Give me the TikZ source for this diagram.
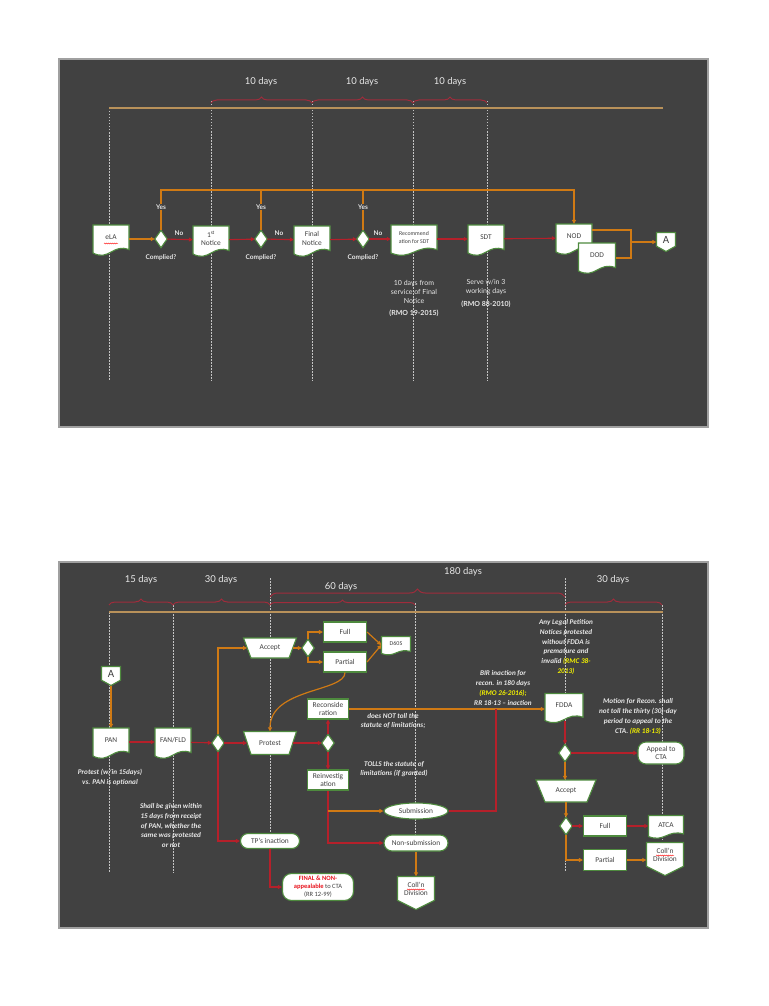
\documentclass[tikz,border=0pt]{standalone}
\usepackage{fontspec}
\setmainfont{Carlito}
\newfontfamily\daysfont{Lato}
\usetikzlibrary{arrows.meta,decorations.pathreplacing,decorations.pathmorphing,shapes.geometric,calc}
\definecolor{bgc}{HTML}{414141}
\definecolor{framec}{HTML}{A0A0A0}
\definecolor{tlc}{HTML}{B8915A}
\definecolor{brcc}{HTML}{A02C3C}
\definecolor{dshc}{HTML}{C4C4C4}
\definecolor{org}{HTML}{D07A14}
\definecolor{rdc}{HTML}{B5202A}
\definecolor{grn}{HTML}{4E8A3E}
\definecolor{ntxt}{HTML}{404040}
\definecolor{lbl}{HTML}{E8E8E8}
\definecolor{ylw}{HTML}{F2F000}
\definecolor{redt}{HTML}{E8141E}
\tikzset{
 nodeb/.style={draw=grn, fill=white, line width=1.1pt},
 ntx/.style={text=ntxt, font=\fontsize{7.4}{8.4}\selectfont, align=center, inner sep=0pt},
 boxn/.style={nodeb, ntx, inner sep=1pt},
 hid/.style={draw=none, inner sep=0pt},
 oarr/.style={draw=org, line width=1.2pt, -{Triangle[length=4pt,width=4pt]}},
 rarr/.style={draw=rdc, line width=1.1pt, -{Triangle[length=4pt,width=4pt]}},
 oline/.style={draw=org, line width=1.2pt},
 rline/.style={draw=rdc, line width=1.1pt},
 dsh/.style={draw=dshc, line width=0.7pt, dash pattern=on 1.5pt off 1.5pt},
 tline/.style={draw=tlc, line width=1.3pt},
 brc/.style={draw=brcc, line width=1pt, decorate, decoration={brace, amplitude=#1}},
 brc/.default=6pt,
 dayl/.style={text=lbl, font=\daysfont\fontsize{9.5}{10}\selectfont, inner sep=0pt},
 lab/.style={text=lbl, font=\daysfont\bfseries\fontsize{6.5}{7}\selectfont, inner sep=1pt},
 tnote/.style={text=lbl, font=\daysfont\fontsize{7}{9}\selectfont, align=center, inner sep=0pt},
 tnoteb/.style={text=lbl, font=\daysfont\bfseries\fontsize{7}{9}\selectfont, align=center, inner sep=0pt},
 note/.style={text=lbl, font=\bfseries\itshape\fontsize{7.2}{9.8}\selectfont, align=center, inner sep=0pt},
 spell/.style={draw=red, line width=0.4pt, decorate, decoration={snake, amplitude=0.5pt, segment length=2pt}},
}
% document shape: name, cx, cy, w, h, text
\newcommand\docshape[6]{%
 \filldraw[nodeb] ({#2-#4/2},{#3-#5/2}) -- ({#2+#4/2},{#3-#5/2}) -- ({#2+#4/2},{#3+#5/2-0.12*#5})
   .. controls ({#2+0.05*#4},{#3+#5/2-0.35*#5}) and ({#2-0.05*#4},{#3+#5/2+0.3*#5}) .. ({#2-#4/2},{#3+#5/2}) -- cycle;
 \node[hid, minimum width=#4, minimum height=#5] (#1) at (#2,#3) {};
 \node[ntx] (#1t) at (#2,{#3-0.06*#5}) {#6};}
% off-page connector: name, cx, cy, w, h, text
\newcommand\offpage[6]{%
 \filldraw[nodeb] ({#2-#4/2},{#3-#5/2}) -- ({#2+#4/2},{#3-#5/2}) -- ({#2+#4/2},{#3+#5/2-0.28*#5})
   -- (#2,{#3+#5/2}) -- ({#2-#4/2},{#3+#5/2-0.28*#5}) -- cycle;
 \node[hid, minimum width=#4, minimum height=#5] (#1) at (#2,#3) {};
 \node[ntx] (#1t) at (#2,{#3-0.13*#5}) {#6};}
% trapezoid: name, cx, cy, topw, botw, h, text
\newcommand\trapshape[7]{%
 \filldraw[nodeb] ({#2-#4/2},{#3-#6/2}) -- ({#2+#4/2},{#3-#6/2}) -- ({#2+#5/2},{#3+#6/2}) -- ({#2-#5/2},{#3+#6/2}) -- cycle;
 \node[ntx, minimum width={(#4+#5)/2}, minimum height=#6] (#1) at (#2,#3) {#7};}
% diamond: name, cx, cy
\newcommand\dia[3]{%
 \node[hid, minimum width=12, minimum height=17] (#1) at (#2,#3) {};
 \filldraw[nodeb] (#1.north) -- (#1.east) -- (#1.south) -- (#1.west) -- cycle;}
\begin{document}
\begin{tikzpicture}[x=1pt,y=-1pt]
\useasboundingbox (0,0) rectangle (768,1006);
\fill[white] (0,0) rectangle (768,1006);
%================ TOP PANEL ================
\fill[bgc] (59,59) rectangle (708,427);
\draw[framec, line width=1.2pt] (59,59) rectangle (708,427);
% dashed verticals
\draw[dsh] (109,108) -- (109,381);
\draw[dsh] (211,101) -- (211,381);
\draw[dsh] (312,101) -- (312,381);
\draw[dsh] (413,101) -- (413,381);
\draw[dsh] (487,101) -- (487,381);
% timeline
\draw[tline] (109,108) -- (663,108);
\draw[brc=6pt] (211,103) -- (312,103);
\draw[brc=6pt] (312,103) -- (413,103);
\draw[brc=6pt] (413,103) -- (487,103);
\node[dayl] (d10a) at (261,82) {10 days};
\node[dayl] (d10b) at (362,82) {10 days};
\node[dayl] (d10c) at (450,82) {10 days};
% nodes
\docshape{ela}{111}{239}{36}{28}{eLA}
\draw[spell] (104,243.5) -- (118,243.5);
\dia{c1}{161}{239}
\docshape{n1}{211}{240}{36}{28}{1\textsuperscript{st}\\Notice}
\dia{c2}{261}{239}
\docshape{fn}{312}{240}{36}{28}{Final\\Notice}
\dia{c3}{363}{239}
\docshape{rec}{414}{239}{46}{28}{\fontsize{5.8}{7}\selectfont Recommend\\\fontsize{5.8}{7}\selectfont ation for SDT}
\docshape{sdt}{486}{239}{36}{28}{SDT}
\docshape{nod}{574}{238}{36}{28}{NOD}
\docshape{dod}{597}{257}{37}{28}{DOD}
\offpage{ta}{666}{242}{19}{19}{\fontsize{11}{12}\selectfont A}
% connectors
\draw[oarr] (ela) -- (c1);
\draw[rarr] (c1) -- (n1);
\draw[rarr] (n1) -- (c2);
\draw[rarr] (c2) -- (fn);
\draw[rarr] (fn) -- (c3);
\draw[rarr] (c3) -- (rec);
\draw[rarr] (rec) -- (sdt);
\draw[rarr] (sdt) -- (nod);
\coordinate (ya) at (161,190);
\coordinate (yb) at (261,190);
\coordinate (yc) at (363,190);
\coordinate (yd) at (574,190);
\draw[oarr] (c1.north) -- (ya) -- (yd) -- (nod.north);
\draw[oline] (c2.north) -- (yb);
\draw[oline] (c3.north) -- (yc);
\node[lab, fill=bgc] (ys1) at (161,207) {Yes};
\node[lab, fill=bgc] (ys2) at (261,207) {Yes};
\node[lab, fill=bgc] (ys3) at (363,207) {Yes};
\node[lab] (no1) at (179,233) {No};
\node[lab] (no2) at (279,233) {No};
\node[lab] (no3) at (378,233) {No};
\node[lab] (cp1) at (161,258) {Complied?};
\node[lab] (cp2) at (261,258) {Complied?};
\node[lab] (cp3) at (363,258) {Complied?};
\coordinate (br1) at (631,230);
\coordinate (br2) at (631,258);
\coordinate (bj) at (631,242);
\draw[oline] ([yshift=8pt]nod.east) -- (br1) -- (br2) -- (dod.east |- br2);
\draw[oarr] (bj) -- (ta.west |- bj);
\node[tnote] (nt1) at (414,292) {10 days from\\service of Final\\Notice};
\node[tnoteb] (nt2) at (414,313) {(RMO 19-2015)};
\node[tnote] (nt3) at (486,287.5) {Serve w/in 3\\working days};
\node[tnoteb] (nt4) at (486,304) {(RMO 88-2010)};
%================ BOTTOM PANEL ================
\fill[bgc] (59,562) rectangle (708,928);
\draw[framec, line width=1.2pt] (59,562) rectangle (708,928);
\draw[dsh] (109,612) -- (109,873);
\draw[dsh] (173,605) -- (173,873);
\draw[dsh] (270,578) -- (270,873);
\draw[dsh] (415,603) -- (415,877);
\draw[dsh] (565,578) -- (565,872);
\draw[dsh] (662,605) -- (662,840);
\draw[tline] (109,612) -- (663,612);
\draw[brc=6pt] (109,605) -- (173,605);
\draw[brc=6pt] (173,605) -- (270,605);
\draw[brc=5pt] (270,605) -- (415,605);
\draw[brc=8pt] (270,597) -- (565,597);
\draw[brc=6pt] (565,605) -- (662,605);
\node[dayl] (d15) at (141,580) {15 days};
\node[dayl] (d30) at (221,580) {30 days};
\node[dayl] (d60) at (341,587) {60 days};
\node[dayl] (d180) at (463,572) {180 days};
\node[dayl] (d30b) at (613,580) {30 days};
% nodes
\offpage{ba}{111}{676}{19}{19}{\fontsize{11}{12}\selectfont A}
\docshape{pan}{111}{742}{36}{28}{PAN}
\docshape{fan}{173}{742}{36}{28}{FAN/FLD}
\dia{e1}{218}{743}
\trapshape{prot}{270}{743}{53}{38}{23}{Protest}
\dia{e2}{328}{743}
\node[boxn, minimum width=41, minimum height=20] (recon) at (328,709) {Reconside\\ration};
\node[boxn, minimum width=41, minimum height=20] (reinv) at (328,780) {Reinvestig\\ation};
\trapshape{acc}{270}{648}{53}{38}{20}{Accept}
\dia{e3}{308}{648}
\node[boxn, minimum width=43, minimum height=20] (full) at (345,632) {Full};
\node[boxn, minimum width=43, minimum height=20] (part) at (345,662) {Partial};
\docshape{dsix}{396}{645}{29}{17}{\fontsize{6}{7}\selectfont D60S}
\docshape{fdda}{564}{707}{38}{27}{FDDA}
\dia{e4}{565}{753}
\node[boxn, rounded corners=8pt, minimum width=46, minimum height=22] (appeal) at (661,753) {Appeal to\\CTA};
\trapshape{acc2}{566}{791}{60}{42}{22}{Accept}
\dia{e5}{566}{826}
\node[boxn, minimum width=43, minimum height=20] (full2) at (605,826) {Full};
\docshape{atca}{666}{826}{35}{21}{ATCA}
\node[boxn, minimum width=43, minimum height=21] (part2) at (605,860) {Partial};
\offpage{coll2}{665}{859}{37}{33}{Coll'n\\Division}
\draw[spell] (656,855.5) -- (674,855.5);
\node[boxn, ellipse, inner sep=0pt, minimum width=64, minimum height=16] (subm) at (416,811) {Submission};
\node[boxn, rounded corners=8pt, minimum width=64, minimum height=16] (nsub) at (416,843) {Non-submission};
\offpage{coll1}{416}{893}{37}{33}{Coll'n\\Division}
\draw[spell] (407,889.5) -- (425,889.5);
\node[boxn, rounded corners=7.5pt, minimum width=59, minimum height=15] (tpin) at (270,841) {TP's inaction};
\node[boxn, rounded corners=9pt, minimum width=71, minimum height=27, font=\fontsize{6.5}{8}\selectfont] (final) at (318,887) {\textcolor{redt}{\textbf{FINAL \& NON-}}\\\textcolor{redt}{\textbf{appealable}} to CTA\\(RR 12-99)};
% connectors
\draw[oarr] (ba.south) -- (pan.north);
\draw[rarr] (pan) -- (fan);
\draw[rarr] (fan) -- (e1);
\draw[rarr] (e1) -- (prot);
\draw[rarr] (prot) -- (e2);
\draw[rarr] (e2.north) -- (recon.south);
\draw[rarr] (e2.south) -- (reinv.north);
\draw[oarr] (e1.north) |- (acc.west);
\draw[oarr] (acc) -- (e3);
\draw[oarr] (e3.north) |- (full.west);
\draw[oarr] (e3.south) |- (part.west);
\draw[oarr] (full.east) -- (dsix.west);
\draw[oarr] (part.east) -- (dsix.west);
\draw[oarr] (part.south) .. controls (345,692) and (270,688) .. (prot.north);
\draw[oarr] (recon.east) -- (fdda.west |- recon.east);
\coordinate (rv1) at (328,811);
\coordinate (rs1) at (496,811);
\coordinate (rs2) at (496,709);
\draw[rarr] (reinv.south) |- (nsub.west);
\draw[oarr] (rv1) -- (subm.west);
\draw[rline] (subm.east) -- (rs1) -- (rs2);
\draw[oarr] (nsub.south) -- (coll1.north);
\draw[rarr] (e1.south) |- (tpin.west);
\draw[rarr] (tpin.south) |- (final.west);
\draw[rarr] (fdda.south -| e4) -- (e4.north);
\draw[rarr] (e4.east) -- (appeal.west);
\draw[oarr] (e4.south) -- (acc2.north -| e4);
\draw[oarr] (acc2.south -| e5) -- (e5.north);
\draw[rarr] (e5.east) -- (full2.west);
\draw[rarr] (full2.east) -- (atca.west);
\draw[oarr] (e5.south) |- (part2.west);
\draw[oarr] (part2.east) -- (coll2.west |- part2.east);
% notes
\node[note] (nlegal) at (566,647) {Any Legal Petition\\Notices protested\\without FDDA is\\premature and\\invalid \textcolor{ylw}{(RMC 38-}\\\textcolor{ylw}{2013)}};
\node[note] (nbir) at (503,688) {BIR inaction for\\recon. in 180 days\\\textcolor{ylw}{(RMO 26-2016);}\\RR 18-13 -- inaction};
\node[note] (nmot) at (638,716.5) {Motion for Recon. shall\\not toll the thirty (30)-day\\period to appeal to the\\CTA. \textcolor{ylw}{(RR 18-13)}};
\node[note] (nprot) at (110,777) {Protest (w/in 15days)\\vs. PAN is optional};
\node[note] (nshall) at (171,825.5) {Shall be given within\\15 days from receipt\\of PAN, whether the\\same was protested\\or not};
\node[note] (ntoll) at (393,721) {does NOT toll the\\statute of limitations;};
\node[note] (ntolls) at (394,769) {TOLLS the statute of\\limitations (if granted)};
\end{tikzpicture}
\end{document}
